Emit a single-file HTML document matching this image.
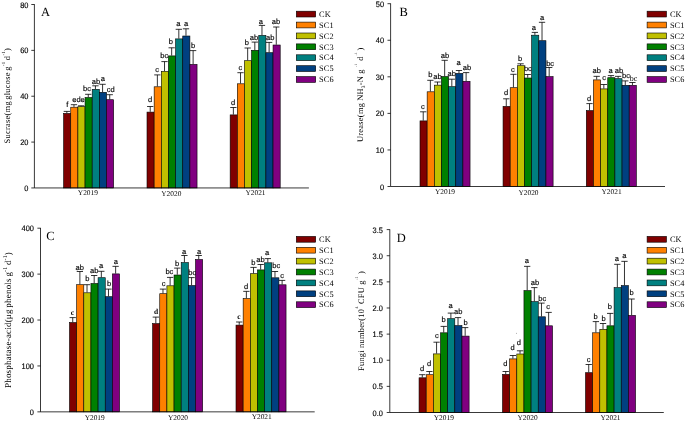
<!DOCTYPE html>
<html><head><meta charset="utf-8"><title>Figure</title>
<style>
html,body{margin:0;padding:0;background:#fff}
svg{display:block}
.b{stroke:#000;stroke-width:0.6}
.e{stroke:#000;stroke-width:0.8;fill:none}
.a{stroke:#000;stroke-width:0.78;fill:none}
text{fill:#000;text-rendering:geometricPrecision}
.l{font-family:"Liberation Sans",sans-serif;font-size:7.5px;text-anchor:middle;stroke:#000;stroke-width:0.15px}
.ls{font-family:"Liberation Serif",serif;font-size:8px;text-anchor:middle}
.lt{font-family:"Liberation Serif",serif;font-size:7.5px;font-weight:bold;text-anchor:middle}
.t{font-family:"Liberation Sans",sans-serif;font-size:7.9px;text-anchor:end;stroke:#000;stroke-width:0.15px}
.x{font-family:"Liberation Serif",serif;font-size:7.4px;text-anchor:middle}
.p{font-family:"Liberation Serif",serif;font-size:12.5px}
.y{font-family:"Liberation Serif",serif;text-anchor:middle}
.g{font-family:"Liberation Serif",serif;font-size:8.3px;letter-spacing:0.12px}
</style></head><body>
<svg width="685" height="423" viewBox="0 0 685 423">
<rect width="685" height="423" fill="#fff"/>
<g><text x="67.3" y="106.6" class="l">f</text>
<text x="78.5" y="101.5" class="l">ede</text>
<text x="87" y="90.9" class="l">bc</text>
<text x="96" y="83.5" class="l">ab</text>
<text x="102.9" y="80.7" class="l">a</text>
<text x="110.6" y="91.8" class="l">cd</text>
<text x="150.2" y="102.4" class="l">d</text>
<text x="157" y="71.7" class="l">c</text>
<text x="164.2" y="58" class="l">bc</text>
<text x="170.9" y="44.3" class="l">b</text>
<text x="178.4" y="26.1" class="l">a</text>
<text x="186" y="26.1" class="l">a</text>
<text x="193" y="48.4" class="l">b</text>
<text x="233" y="104.5" class="l">d</text>
<text x="240.4" y="69.5" class="l">c</text>
<text x="246.9" y="45.3" class="l">b</text>
<text x="253.9" y="40.4" class="l">ab</text>
<text x="260.9" y="23.7" class="l">a</text>
<text x="270.2" y="40" class="l">ab</text>
<text x="276" y="23.9" class="l">ab</text>
<path d="M66.83 113.1V111.4M63.68 111.4H69.98" class="e"/>
<rect x="63.6" y="113.4" width="7.15" height="74.55" fill="#800000" class="b"/>
<path d="M73.98 106.9V104.7M70.83 104.7H77.13" class="e"/>
<rect x="70.75" y="107.2" width="7.15" height="80.75" fill="#FF8000" class="b"/>
<path d="M81.12 106.4V105.8M77.97 105.8H84.28" class="e"/>
<rect x="77.9" y="106.7" width="7.15" height="81.25" fill="#C0C000" class="b"/>
<path d="M88.28 97.2V94.3M85.12 94.3H91.43" class="e"/>
<rect x="85.05" y="97.5" width="7.15" height="90.45" fill="#008000" class="b"/>
<path d="M95.43 89V85.8M92.28 85.8H98.58" class="e"/>
<rect x="92.2" y="89.3" width="7.15" height="98.65" fill="#008080" class="b"/>
<path d="M102.58 92V84.3M99.42 84.3H105.73" class="e"/>
<rect x="99.35" y="92.3" width="7.15" height="95.65" fill="#004080" class="b"/>
<path d="M109.73 99.4V94.7M106.58 94.7H112.88" class="e"/>
<rect x="106.5" y="99.7" width="7.15" height="88.25" fill="#800080" class="b"/>
<path d="M150.22 111.8V106.5M147.07 106.5H153.37" class="e"/>
<rect x="147" y="112.1" width="7.15" height="75.85" fill="#800000" class="b"/>
<path d="M157.37 86.5V74.9M154.22 74.9H160.52" class="e"/>
<rect x="154.15" y="86.8" width="7.15" height="101.15" fill="#FF8000" class="b"/>
<path d="M164.52 71.1V61.6M161.37 61.6H167.67" class="e"/>
<rect x="161.3" y="71.4" width="7.15" height="116.55" fill="#C0C000" class="b"/>
<path d="M171.67 55.6V47.8M168.52 47.8H174.82" class="e"/>
<rect x="168.45" y="55.9" width="7.15" height="132.05" fill="#008000" class="b"/>
<path d="M178.82 38.6V29.3M175.67 29.3H181.97" class="e"/>
<rect x="175.6" y="38.9" width="7.15" height="149.05" fill="#008080" class="b"/>
<path d="M185.97 35.7V28.8M182.82 28.8H189.12" class="e"/>
<rect x="182.75" y="36" width="7.15" height="151.95" fill="#004080" class="b"/>
<path d="M193.12 64.1V50.6M189.97 50.6H196.27" class="e"/>
<rect x="189.9" y="64.4" width="7.15" height="123.55" fill="#800080" class="b"/>
<path d="M233.37 114.6V107.5M230.22 107.5H236.52" class="e"/>
<rect x="230.15" y="114.9" width="7.15" height="73.05" fill="#800000" class="b"/>
<path d="M240.52 83.5V72.7M237.37 72.7H243.67" class="e"/>
<rect x="237.3" y="83.8" width="7.15" height="104.15" fill="#FF8000" class="b"/>
<path d="M247.67 60.4V48M244.52 48H250.82" class="e"/>
<rect x="244.45" y="60.7" width="7.15" height="127.25" fill="#C0C000" class="b"/>
<path d="M254.82 50V42.1M251.67 42.1H257.97" class="e"/>
<rect x="251.6" y="50.3" width="7.15" height="137.65" fill="#008000" class="b"/>
<path d="M261.97 35.1V25.4M258.82 25.4H265.12" class="e"/>
<rect x="258.75" y="35.4" width="7.15" height="152.55" fill="#008080" class="b"/>
<path d="M269.12 52.4V42.4M265.98 42.4H272.27" class="e"/>
<rect x="265.9" y="52.7" width="7.15" height="135.25" fill="#004080" class="b"/>
<path d="M276.27 44.7V27M273.12 27H279.42" class="e"/>
<rect x="273.05" y="45" width="7.15" height="142.95" fill="#800080" class="b"/>
<path d="M34.4 4.2V187.95H308.9" class="a"/>
<path d="M31.3 187.95H34.4" class="a"/>
<text transform="translate(28.4 190.95) scale(0.94 1)" class="t">0</text>
<path d="M31.3 142.09H34.4" class="a"/>
<text transform="translate(28.4 145.09) scale(0.94 1)" class="t">20</text>
<path d="M31.3 96.22H34.4" class="a"/>
<text transform="translate(28.4 99.22) scale(0.94 1)" class="t">40</text>
<path d="M31.3 50.36H34.4" class="a"/>
<text transform="translate(28.4 53.36) scale(0.94 1)" class="t">60</text>
<path d="M31.3 4.5H34.4" class="a"/>
<text transform="translate(28.4 7.5) scale(0.94 1)" class="t">80</text>
<text x="87.9" y="195" class="x">Y2019</text>
<text x="171.3" y="196" class="x">Y2020</text>
<text x="255.5" y="194.6" class="x">Y2021</text>
<text x="41" y="16.3" class="p">A</text>
<text transform="translate(9.8 95.65) rotate(-90)" class="y" font-size="8.4" word-spacing="-0.9" letter-spacing="0.27">Sucrase(mg glucose g<tspan dx="0.1" dy="-4.8" font-size="4.8">-1</tspan><tspan dx="0.06" dy="4.8"> d</tspan><tspan dx="0.1" dy="-4.8" font-size="4.8">-1</tspan><tspan dx="0.06" dy="4.8">)</tspan></text>
<rect x="296.3" y="11.2" width="19.4" height="5.8" fill="#800000" class="b"/>
<text x="319.1" y="16.8" class="g">CK</text>
<rect x="296.3" y="22.1" width="19.4" height="5.8" fill="#FF8000" class="b"/>
<text x="319.1" y="27.7" class="g">SC1</text>
<rect x="296.3" y="33" width="19.4" height="5.8" fill="#C0C000" class="b"/>
<text x="319.1" y="38.6" class="g">SC2</text>
<rect x="296.3" y="43.9" width="19.4" height="5.8" fill="#008000" class="b"/>
<text x="319.1" y="49.5" class="g">SC3</text>
<rect x="296.3" y="54.8" width="19.4" height="5.8" fill="#008080" class="b"/>
<text x="319.1" y="60.4" class="g">SC4</text>
<rect x="296.3" y="65.7" width="19.4" height="5.8" fill="#004080" class="b"/>
<text x="319.1" y="71.3" class="g">SC5</text>
<rect x="296.3" y="76.6" width="19.4" height="5.8" fill="#800080" class="b"/>
<text x="319.1" y="82.2" class="g">SC6</text></g>
<g><text x="422.9" y="108.8" class="l">c</text>
<text x="430.4" y="77.2" class="l">b</text>
<text x="437.4" y="78.7" class="l">ab</text>
<text x="445" y="58.3" class="l">ab</text>
<text x="451.7" y="76.2" class="l">ab</text>
<text x="458.7" y="65.4" class="l">a</text>
<text x="466.9" y="70.3" class="l">ab</text>
<text x="506.1" y="95" class="l">d</text>
<text x="512.75" y="71.6" class="l">c</text>
<text x="520.1" y="61.4" class="l">b</text>
<text x="527.9" y="70.7" class="l">bc</text>
<text x="533.9" y="30.1" class="l">a</text>
<text x="542.1" y="19.9" class="l">a</text>
<text x="550.1" y="65.5" class="l">bc</text>
<text x="589" y="100.9" class="l">d</text>
<text x="596.7" y="73.3" class="l">ab</text>
<text x="604" y="80.4" class="l">c</text>
<text x="610.5" y="72.5" class="l">a</text>
<text x="618.9" y="72.5" class="l">ab</text>
<text x="626" y="78.3" class="l">bc</text>
<text x="633.5" y="81.4" class="ls">bc</text>
<path d="M423.22 120.6V111.8M420.07 111.8H426.37" class="e"/>
<rect x="420" y="120.9" width="7.15" height="65.6" fill="#800000" class="b"/>
<path d="M430.37 91.5V80.3M427.22 80.3H433.52" class="e"/>
<rect x="427.15" y="91.8" width="7.15" height="94.7" fill="#FF8000" class="b"/>
<path d="M437.52 84.85V82M434.38 82H440.67" class="e"/>
<rect x="434.3" y="85.15" width="7.15" height="101.35" fill="#C0C000" class="b"/>
<path d="M444.67 76.2V60.3M441.52 60.3H447.82" class="e"/>
<rect x="441.45" y="76.5" width="7.15" height="110" fill="#008000" class="b"/>
<path d="M451.82 86.4V79.2M448.68 79.2H454.97" class="e"/>
<rect x="448.6" y="86.7" width="7.15" height="99.8" fill="#008080" class="b"/>
<path d="M458.97 73.1V70.5M455.82 70.5H462.12" class="e"/>
<rect x="455.75" y="73.4" width="7.15" height="113.1" fill="#004080" class="b"/>
<path d="M466.12 81V72.6M462.98 72.6H469.27" class="e"/>
<rect x="462.9" y="81.3" width="7.15" height="105.2" fill="#800080" class="b"/>
<path d="M506.27 106.1V98.8M503.12 98.8H509.42" class="e"/>
<rect x="503.05" y="106.4" width="7.15" height="80.1" fill="#800000" class="b"/>
<path d="M513.43 87.4V74.3M510.28 74.3H516.58" class="e"/>
<rect x="510.2" y="87.7" width="7.15" height="98.8" fill="#FF8000" class="b"/>
<path d="M520.58 65.4V63.8M517.43 63.8H523.73" class="e"/>
<rect x="517.35" y="65.7" width="7.15" height="120.8" fill="#C0C000" class="b"/>
<path d="M527.73 77.7V74.5M524.58 74.5H530.88" class="e"/>
<rect x="524.5" y="78" width="7.15" height="108.5" fill="#008000" class="b"/>
<path d="M534.88 34.9V32.4M531.73 32.4H538.03" class="e"/>
<rect x="531.65" y="35.2" width="7.15" height="151.3" fill="#008080" class="b"/>
<path d="M542.03 40.4V22.3M538.88 22.3H545.18" class="e"/>
<rect x="538.8" y="40.7" width="7.15" height="145.8" fill="#004080" class="b"/>
<path d="M549.18 76.3V67.5M546.03 67.5H552.33" class="e"/>
<rect x="545.95" y="76.6" width="7.15" height="109.9" fill="#800080" class="b"/>
<path d="M589.53 110.3V103.6M586.38 103.6H592.68" class="e"/>
<rect x="586.3" y="110.6" width="7.15" height="75.9" fill="#800000" class="b"/>
<path d="M596.68 79.6V76.35M593.53 76.35H599.83" class="e"/>
<rect x="593.45" y="79.9" width="7.15" height="106.6" fill="#FF8000" class="b"/>
<path d="M603.83 88.6V84.5M600.68 84.5H606.98" class="e"/>
<rect x="600.6" y="88.9" width="7.15" height="97.6" fill="#C0C000" class="b"/>
<path d="M610.98 77.4V75.6M607.83 75.6H614.13" class="e"/>
<rect x="607.75" y="77.7" width="7.15" height="108.8" fill="#008000" class="b"/>
<path d="M618.13 78.4V76.35M614.98 76.35H621.28" class="e"/>
<rect x="614.9" y="78.7" width="7.15" height="107.8" fill="#008080" class="b"/>
<path d="M625.28 85V80.9M622.13 80.9H628.43" class="e"/>
<rect x="622.05" y="85.3" width="7.15" height="101.2" fill="#004080" class="b"/>
<path d="M632.43 85V82.5M629.28 82.5H635.58" class="e"/>
<rect x="629.2" y="85.3" width="7.15" height="101.2" fill="#800080" class="b"/>
<path d="M390.6 3.4V186.5H665" class="a"/>
<path d="M387.5 186.5H390.6" class="a"/>
<text transform="translate(384.1 189.5) scale(0.94 1)" class="t">0</text>
<path d="M387.5 149.94H390.6" class="a"/>
<text transform="translate(384.1 152.94) scale(0.94 1)" class="t">10</text>
<path d="M387.5 113.38H390.6" class="a"/>
<text transform="translate(384.1 116.38) scale(0.94 1)" class="t">20</text>
<path d="M387.5 76.82H390.6" class="a"/>
<text transform="translate(384.1 79.82) scale(0.94 1)" class="t">30</text>
<path d="M387.5 40.26H390.6" class="a"/>
<text transform="translate(384.1 43.26) scale(0.94 1)" class="t">40</text>
<path d="M387.5 3.7H390.6" class="a"/>
<text transform="translate(384.1 6.7) scale(0.94 1)" class="t">50</text>
<text x="445" y="194.4" class="x">Y2019</text>
<text x="528.5" y="195.4" class="x">Y2020</text>
<text x="611.6" y="193.8" class="x">Y2021</text>
<text x="399.6" y="16" class="p">B</text>
<text transform="translate(363.2 94.75) rotate(-90)" class="y" font-size="8.4" word-spacing="-0.3" letter-spacing="0.27">Urease(mg NH<tspan dy="1.68" font-size="5.4">3</tspan><tspan dx="0" dy="-1.68">-N g</tspan><tspan dx="2.2" dy="-6" font-size="3.6">-1</tspan><tspan dx="0.8" dy="6"> d</tspan><tspan dx="0.7" dy="-6" font-size="3.6">-1</tspan><tspan dx="1.4" dy="6">)</tspan></text>
<rect x="647.1" y="11.2" width="19.4" height="5.8" fill="#800000" class="b"/>
<text x="669.9" y="16.8" class="g">CK</text>
<rect x="647.1" y="22.1" width="19.4" height="5.8" fill="#FF8000" class="b"/>
<text x="669.9" y="27.7" class="g">SC1</text>
<rect x="647.1" y="33" width="19.4" height="5.8" fill="#C0C000" class="b"/>
<text x="669.9" y="38.6" class="g">SC2</text>
<rect x="647.1" y="43.9" width="19.4" height="5.8" fill="#008000" class="b"/>
<text x="669.9" y="49.5" class="g">SC3</text>
<rect x="647.1" y="54.8" width="19.4" height="5.8" fill="#008080" class="b"/>
<text x="669.9" y="60.4" class="g">SC4</text>
<rect x="647.1" y="65.7" width="19.4" height="5.8" fill="#004080" class="b"/>
<text x="669.9" y="71.3" class="g">SC5</text>
<rect x="647.1" y="76.6" width="19.4" height="5.8" fill="#800080" class="b"/>
<text x="669.9" y="82.2" class="g">SC6</text></g>
<g><text x="72.5" y="314.5" class="lt">c</text>
<text x="79.7" y="269.7" class="l">ab</text>
<text x="87.4" y="281" class="l">b</text>
<text x="94.2" y="272.7" class="l">ab</text>
<text x="101.2" y="267.6" class="l">a</text>
<text x="109" y="286.3" class="l">b</text>
<text x="115.9" y="263.8" class="l">a</text>
<text x="156" y="314.3" class="lt">d</text>
<text x="163.7" y="286.4" class="l">c</text>
<text x="169.4" y="273.7" class="l">bc</text>
<text x="177" y="265.9" class="l">b</text>
<text x="184.2" y="253.5" class="l">a</text>
<text x="192.3" y="275.3" class="l">bc</text>
<text x="199" y="253.5" class="l">a</text>
<text x="238.8" y="318.7" class="lt">c</text>
<text x="246.1" y="289.3" class="l">d</text>
<text x="253.4" y="264.8" class="l">b</text>
<text x="260.5" y="261.8" class="l">ab</text>
<text x="267.2" y="255.3" class="l">a</text>
<text x="276.3" y="268.1" class="l">bc</text>
<text x="282.2" y="278.3" class="l">c</text>
<path d="M72.73 322.2V317.6M69.58 317.6H75.88" class="e"/>
<rect x="69.5" y="322.5" width="7.15" height="89.35" fill="#800000" class="b"/>
<path d="M79.88 284.4V271.5M76.73 271.5H83.03" class="e"/>
<rect x="76.65" y="284.7" width="7.15" height="127.15" fill="#FF8000" class="b"/>
<path d="M87.03 292.5V284.7M83.88 284.7H90.18" class="e"/>
<rect x="83.8" y="292.8" width="7.15" height="119.05" fill="#C0C000" class="b"/>
<path d="M94.18 283.2V275.5M91.03 275.5H97.33" class="e"/>
<rect x="90.95" y="283.5" width="7.15" height="128.35" fill="#008000" class="b"/>
<path d="M101.33 277.4V271.3M98.18 271.3H104.48" class="e"/>
<rect x="98.1" y="277.7" width="7.15" height="134.15" fill="#008080" class="b"/>
<path d="M108.48 296.4V289.1M105.33 289.1H111.63" class="e"/>
<rect x="105.25" y="296.7" width="7.15" height="115.15" fill="#004080" class="b"/>
<path d="M115.63 273.6V266.35M112.48 266.35H118.78" class="e"/>
<rect x="112.4" y="273.9" width="7.15" height="137.95" fill="#800080" class="b"/>
<path d="M155.82 323.3V317.1M152.67 317.1H158.97" class="e"/>
<rect x="152.6" y="323.6" width="7.15" height="88.25" fill="#800000" class="b"/>
<path d="M162.97 293.4V289.1M159.82 289.1H166.12" class="e"/>
<rect x="159.75" y="293.7" width="7.15" height="118.15" fill="#FF8000" class="b"/>
<path d="M170.12 285.5V277.4M166.97 277.4H173.28" class="e"/>
<rect x="166.9" y="285.8" width="7.15" height="126.05" fill="#C0C000" class="b"/>
<path d="M177.27 274.7V268.1M174.12 268.1H180.42" class="e"/>
<rect x="174.05" y="275" width="7.15" height="136.85" fill="#008000" class="b"/>
<path d="M184.42 262.3V255.5M181.27 255.5H187.57" class="e"/>
<rect x="181.2" y="262.6" width="7.15" height="149.25" fill="#008080" class="b"/>
<path d="M191.57 285.2V277.6M188.42 277.6H194.72" class="e"/>
<rect x="188.35" y="285.5" width="7.15" height="126.35" fill="#004080" class="b"/>
<path d="M198.72 259.2V255.5M195.57 255.5H201.88" class="e"/>
<rect x="195.5" y="259.5" width="7.15" height="152.35" fill="#800080" class="b"/>
<path d="M239.22 324.8V322M236.07 322H242.37" class="e"/>
<rect x="236" y="325.1" width="7.15" height="86.75" fill="#800000" class="b"/>
<path d="M246.37 298.3V291.35M243.22 291.35H249.52" class="e"/>
<rect x="243.15" y="298.6" width="7.15" height="113.25" fill="#FF8000" class="b"/>
<path d="M253.52 273.4V267.4M250.37 267.4H256.67" class="e"/>
<rect x="250.3" y="273.7" width="7.15" height="138.15" fill="#C0C000" class="b"/>
<path d="M260.67 269.6V264.5M257.52 264.5H263.82" class="e"/>
<rect x="257.45" y="269.9" width="7.15" height="141.95" fill="#008000" class="b"/>
<path d="M267.82 262.5V258.6M264.68 258.6H270.97" class="e"/>
<rect x="264.6" y="262.8" width="7.15" height="149.05" fill="#008080" class="b"/>
<path d="M274.97 277.5V271.5M271.82 271.5H278.12" class="e"/>
<rect x="271.75" y="277.8" width="7.15" height="134.05" fill="#004080" class="b"/>
<path d="M282.12 284.5V280.4M278.98 280.4H285.27" class="e"/>
<rect x="278.9" y="284.8" width="7.15" height="127.05" fill="#800080" class="b"/>
<path d="M40.5 227.9V411.85H314.7" class="a"/>
<path d="M37.4 411.85H40.5" class="a"/>
<text transform="translate(34 414.85) scale(0.94 1)" class="t">0</text>
<path d="M37.4 365.94H40.5" class="a"/>
<text transform="translate(34 368.94) scale(0.94 1)" class="t">100</text>
<path d="M37.4 320.02H40.5" class="a"/>
<text transform="translate(34 323.02) scale(0.94 1)" class="t">200</text>
<path d="M37.4 274.11H40.5" class="a"/>
<text transform="translate(34 277.11) scale(0.94 1)" class="t">300</text>
<path d="M37.4 228.2H40.5" class="a"/>
<text transform="translate(34 231.2) scale(0.94 1)" class="t">400</text>
<text x="94.7" y="419.5" class="x">Y2019</text>
<text x="178" y="420.4" class="x">Y2020</text>
<text x="261.7" y="419" class="x">Y2021</text>
<text x="46.3" y="239.6" class="p">C</text>
<text transform="translate(11.3 320) rotate(-90)" class="y" font-size="9.0" word-spacing="-0.7" letter-spacing="0.2">Phosphatase-acid(μg phenols g<tspan dx="-0.2" dy="-4.5" font-size="6.0">-1</tspan><tspan dx="-0.12" dy="4.5"> d</tspan><tspan dx="-0.2" dy="-4.5" font-size="6.0">-1</tspan><tspan dx="-0.12" dy="4.5">)</tspan></text>
<rect x="296.3" y="236.4" width="19.4" height="5.8" fill="#800000" class="b"/>
<text x="319.1" y="242" class="g">CK</text>
<rect x="296.3" y="247.3" width="19.4" height="5.8" fill="#FF8000" class="b"/>
<text x="319.1" y="252.9" class="g">SC1</text>
<rect x="296.3" y="258.2" width="19.4" height="5.8" fill="#C0C000" class="b"/>
<text x="319.1" y="263.8" class="g">SC2</text>
<rect x="296.3" y="269.1" width="19.4" height="5.8" fill="#008000" class="b"/>
<text x="319.1" y="274.7" class="g">SC3</text>
<rect x="296.3" y="280" width="19.4" height="5.8" fill="#008080" class="b"/>
<text x="319.1" y="285.6" class="g">SC4</text>
<rect x="296.3" y="290.9" width="19.4" height="5.8" fill="#004080" class="b"/>
<text x="319.1" y="296.5" class="g">SC5</text>
<rect x="296.3" y="301.8" width="19.4" height="5.8" fill="#800080" class="b"/>
<text x="319.1" y="307.4" class="g">SC6</text></g>
<g><text x="422.1" y="370.7" class="l">d</text>
<text x="429.2" y="366.4" class="l">d</text>
<text x="436.8" y="338.3" class="l">c</text>
<text x="443.7" y="322.3" class="l">b</text>
<text x="450.6" y="308.2" class="l">a</text>
<text x="458.2" y="313.8" class="l">ab</text>
<text x="465.5" y="324.8" class="l">b</text>
<text x="505.3" y="366.2" class="l">d</text>
<text x="512.5" y="350.1" class="l">d</text>
<text x="518.9" y="345.2" class="l">d</text>
<text x="526.8" y="263.4" class="l">a</text>
<text x="534.9" y="285" class="l">ab</text>
<text x="542.3" y="300.5" class="l">bc</text>
<text x="548.1" y="308.9" class="l">c</text>
<text x="588.7" y="361.5" class="l">c</text>
<text x="595.5" y="318.6" class="l">b</text>
<text x="603.7" y="321.2" class="l">b</text>
<text x="609.9" y="309.3" class="l">b</text>
<text x="616.8" y="261.35" class="l">a</text>
<text x="624.4" y="258.2" class="l">a</text>
<text x="631.7" y="295.3" class="l">b</text>
<path d="M422.27 377.5V374.7M419.12 374.7H425.42" class="e"/>
<rect x="419.05" y="377.8" width="7.15" height="34.7" fill="#800000" class="b"/>
<path d="M429.42 374.4V371.5M426.27 371.5H432.57" class="e"/>
<rect x="426.2" y="374.7" width="7.15" height="37.8" fill="#FF8000" class="b"/>
<path d="M436.57 353.6V342.2M433.43 342.2H439.72" class="e"/>
<rect x="433.35" y="353.9" width="7.15" height="58.6" fill="#C0C000" class="b"/>
<path d="M443.72 332.5V326.4M440.57 326.4H446.87" class="e"/>
<rect x="440.5" y="332.8" width="7.15" height="79.7" fill="#008000" class="b"/>
<path d="M450.88 318.4V313.1M447.73 313.1H454.02" class="e"/>
<rect x="447.65" y="318.7" width="7.15" height="93.8" fill="#008080" class="b"/>
<path d="M458.02 325.3V317.6M454.88 317.6H461.17" class="e"/>
<rect x="454.8" y="325.6" width="7.15" height="86.9" fill="#004080" class="b"/>
<path d="M465.17 335.8V327.6M462.02 327.6H468.32" class="e"/>
<rect x="461.95" y="336.1" width="7.15" height="76.4" fill="#800080" class="b"/>
<path d="M505.72 374.1V371.5M502.57 371.5H508.87" class="e"/>
<rect x="502.5" y="374.4" width="7.15" height="38.1" fill="#800000" class="b"/>
<path d="M512.88 358.6V355.5M509.73 355.5H516.02" class="e"/>
<rect x="509.65" y="358.9" width="7.15" height="53.6" fill="#FF8000" class="b"/>
<path d="M520.03 353.7V350.8M516.88 350.8H523.18" class="e"/>
<rect x="516.8" y="354" width="7.15" height="58.5" fill="#C0C000" class="b"/>
<path d="M527.18 290.3V266.35M524.03 266.35H530.33" class="e"/>
<rect x="523.95" y="290.6" width="7.15" height="121.9" fill="#008000" class="b"/>
<path d="M534.33 301.35V287.6M531.18 287.6H537.48" class="e"/>
<rect x="531.1" y="301.65" width="7.15" height="110.85" fill="#008080" class="b"/>
<path d="M541.48 316.5V303.1M538.33 303.1H544.63" class="e"/>
<rect x="538.25" y="316.8" width="7.15" height="95.7" fill="#004080" class="b"/>
<path d="M548.63 325.5V312.4M545.48 312.4H551.78" class="e"/>
<rect x="545.4" y="325.8" width="7.15" height="86.7" fill="#800080" class="b"/>
<path d="M588.73 372.4V364.5M585.58 364.5H591.88" class="e"/>
<rect x="585.5" y="372.7" width="7.15" height="39.8" fill="#800000" class="b"/>
<path d="M595.88 332.5V321.6M592.73 321.6H599.03" class="e"/>
<rect x="592.65" y="332.8" width="7.15" height="79.7" fill="#FF8000" class="b"/>
<path d="M603.03 329V323.5M599.88 323.5H606.18" class="e"/>
<rect x="599.8" y="329.3" width="7.15" height="83.2" fill="#C0C000" class="b"/>
<path d="M610.18 325.5V313.4M607.03 313.4H613.33" class="e"/>
<rect x="606.95" y="325.8" width="7.15" height="86.7" fill="#008000" class="b"/>
<path d="M617.33 287.3V264.3M614.18 264.3H620.48" class="e"/>
<rect x="614.1" y="287.6" width="7.15" height="124.9" fill="#008080" class="b"/>
<path d="M624.48 285.3V261.35M621.33 261.35H627.63" class="e"/>
<rect x="621.25" y="285.6" width="7.15" height="126.9" fill="#004080" class="b"/>
<path d="M631.63 315.1V299M628.48 299H634.78" class="e"/>
<rect x="628.4" y="315.4" width="7.15" height="97.1" fill="#800080" class="b"/>
<path d="M389.8 229.3V412.5H663.8" class="a"/>
<path d="M386.7 412.5H389.8" class="a"/>
<text transform="translate(382.9 415.5) scale(0.94 1)" class="t">0.0</text>
<path d="M386.7 386.37H389.8" class="a"/>
<text transform="translate(382.9 389.37) scale(0.94 1)" class="t">0.5</text>
<path d="M386.7 360.24H389.8" class="a"/>
<text transform="translate(382.9 363.24) scale(0.94 1)" class="t">1.0</text>
<path d="M386.7 334.11H389.8" class="a"/>
<text transform="translate(382.9 337.11) scale(0.94 1)" class="t">1.5</text>
<path d="M386.7 307.99H389.8" class="a"/>
<text transform="translate(382.9 310.99) scale(0.94 1)" class="t">2.0</text>
<path d="M386.7 281.86H389.8" class="a"/>
<text transform="translate(382.9 284.86) scale(0.94 1)" class="t">2.5</text>
<path d="M386.7 255.73H389.8" class="a"/>
<text transform="translate(382.9 258.73) scale(0.94 1)" class="t">3.0</text>
<path d="M386.7 229.6H389.8" class="a"/>
<text transform="translate(382.9 232.6) scale(0.94 1)" class="t">3.5</text>
<text x="443.8" y="419.5" class="x">Y2019</text>
<text x="527.6" y="420.4" class="x">Y2020</text>
<text x="610.5" y="419.5" class="x">Y2021</text>
<text x="396.8" y="241.7" class="p">D</text>
<text transform="translate(363.6 320.95) rotate(-90)" class="y" font-size="8.4" word-spacing="-0.3" letter-spacing="0.27">Fungi number(10<tspan dx="0.3" dy="-5.4" font-size="4.0">4</tspan><tspan dx="0.18" dy="5.4"> CFU g</tspan><tspan dx="0.3" dy="-5.4" font-size="4.0">-1</tspan><tspan dx="0.18" dy="5.4"> )</tspan></text>
<rect x="647.1" y="236.4" width="19.4" height="5.8" fill="#800000" class="b"/>
<text x="669.9" y="242" class="g">CK</text>
<rect x="647.1" y="247.3" width="19.4" height="5.8" fill="#FF8000" class="b"/>
<text x="669.9" y="252.9" class="g">SC1</text>
<rect x="647.1" y="258.2" width="19.4" height="5.8" fill="#C0C000" class="b"/>
<text x="669.9" y="263.8" class="g">SC2</text>
<rect x="647.1" y="269.1" width="19.4" height="5.8" fill="#008000" class="b"/>
<text x="669.9" y="274.7" class="g">SC3</text>
<rect x="647.1" y="280" width="19.4" height="5.8" fill="#008080" class="b"/>
<text x="669.9" y="285.6" class="g">SC4</text>
<rect x="647.1" y="290.9" width="19.4" height="5.8" fill="#004080" class="b"/>
<text x="669.9" y="296.5" class="g">SC5</text>
<rect x="647.1" y="301.8" width="19.4" height="5.8" fill="#800080" class="b"/>
<text x="669.9" y="307.4" class="g">SC6</text>
<circle cx="516.4" cy="333.3" r="0.45" fill="#666"/></g>
</svg>
</body></html>
